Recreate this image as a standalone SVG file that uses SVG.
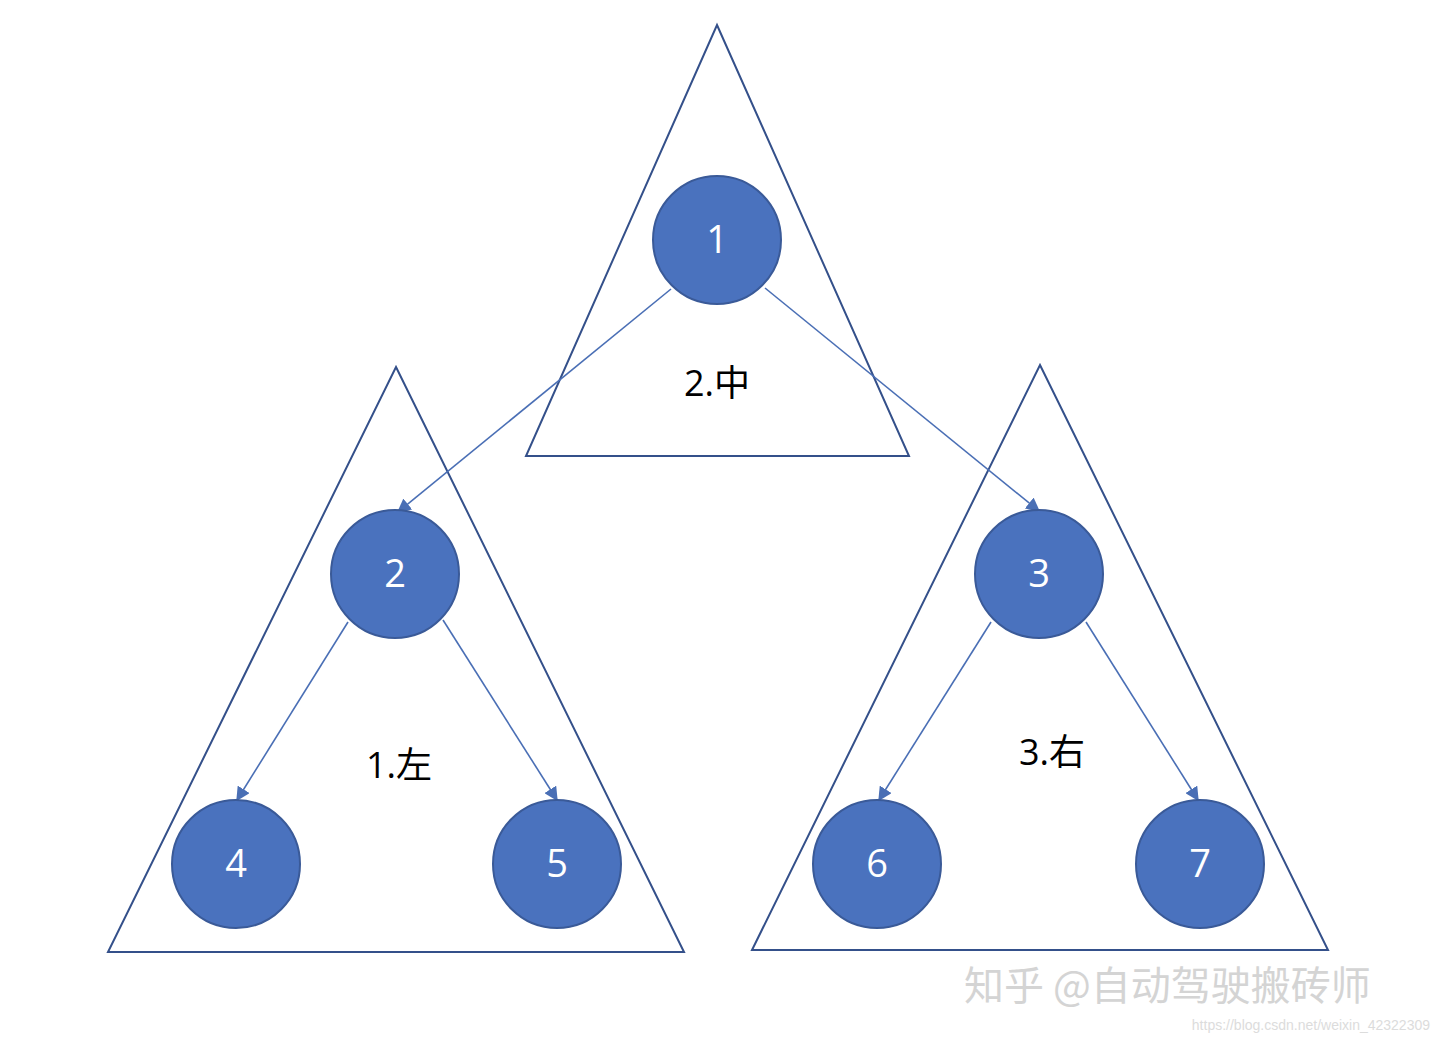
<svg xmlns="http://www.w3.org/2000/svg" width="1438" height="1044" viewBox="0 0 1438 1044">
<style>
.tri{fill:none;stroke:#34508a;stroke-width:2}
.n circle{fill:#4a72be;stroke:#3a5a98;stroke-width:2}
.n text{fill:#fff;font-family:"Open Sans","Noto Sans",sans-serif;font-size:38px;text-anchor:middle}
.lbl{fill:#000;font-family:"Open Sans","Noto Sans CJK SC",sans-serif;font-size:36px;text-anchor:middle}
.e{stroke:#4a6fb5;stroke-width:1.6;fill:none;marker-end:url(#a)}
</style>
<defs><marker id="a" viewBox="0 0 10 10" refX="9" refY="5" markerWidth="9" markerHeight="9" markerUnits="userSpaceOnUse" orient="auto"><path d="M0,0L10,5L0,10z" fill="#4a6fb5"/></marker>
<marker id="a2" viewBox="0 0 10 10" refX="9" refY="5" markerWidth="14" markerHeight="14" markerUnits="userSpaceOnUse" orient="auto"><path d="M0,0L10,5L0,10z" fill="#4a6fb5"/></marker></defs>
<rect width="1438" height="1044" fill="#fff"/>
<g id="triangles">
<polygon class="tri" points="717,25 909,456 526,456"/>
<polygon class="tri" points="396,367 684,952 108,952"/>
<polygon class="tri" points="1040,365 1328,950 752,950"/>
</g>
<g id="connectors">
<line class="e" style="marker-end:url(#a2)" x1="671" y1="289" x2="398" y2="512"/>
<line class="e" style="marker-end:url(#a2)" x1="765" y1="288" x2="1039" y2="511"/>
<line class="e" style="marker-end:url(#a2)" x1="348" y1="622" x2="237" y2="800"/>
<line class="e" style="marker-end:url(#a2)" x1="443" y1="620" x2="557" y2="800"/>
<line class="e" style="marker-end:url(#a2)" x1="991" y1="622" x2="879" y2="800"/>
<line class="e" style="marker-end:url(#a2)" x1="1086" y1="622" x2="1198" y2="800"/>
</g>
<g id="n1" class="n"><circle cx="717" cy="240" r="64"/><text x="717" y="253">1</text></g>
<g id="n2" class="n"><circle cx="395" cy="574" r="64"/><text x="395" y="587">2</text></g>
<g id="n3" class="n"><circle cx="1039" cy="574" r="64"/><text x="1039" y="587">3</text></g>
<g id="n4" class="n"><circle cx="236" cy="864" r="64"/><text x="236" y="877">4</text></g>
<g id="n5" class="n"><circle cx="557" cy="864" r="64"/><text x="557" y="877">5</text></g>
<g id="n6" class="n"><circle cx="877" cy="864" r="64"/><text x="877" y="877">6</text></g>
<g id="n7" class="n"><circle cx="1200" cy="864" r="64"/><text x="1200" y="877">7</text></g>
<g id="labels">
<text class="lbl" x="717" y="396">2.中</text>
<text class="lbl" x="399" y="778">1.左</text>
<text class="lbl" x="1052" y="765">3.右</text>
</g>
<g id="watermark" font-family="'Noto Sans CJK SC',sans-serif">
<text x="964" y="1000" font-size="40" fill="#d4d4d4">知乎 @自动驾驶搬砖师</text>
<text x="1430" y="1030" font-size="14" fill="#dcdcdc" text-anchor="end" font-family="'Liberation Sans',sans-serif">https://blog.csdn.net/weixin_42322309</text>
</g>
</svg>
